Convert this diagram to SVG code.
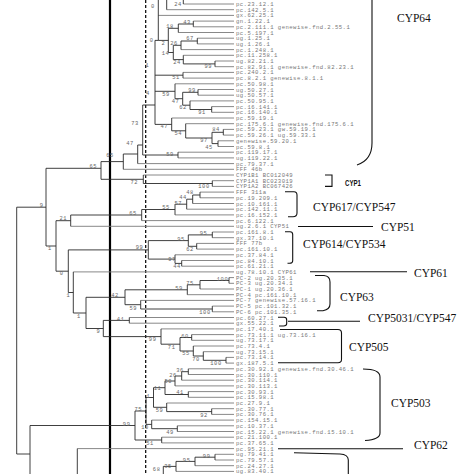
<svg xmlns="http://www.w3.org/2000/svg" width="474" height="474" viewBox="0 0 474 474">
<style>
.lf{fill:none;stroke:#7a7a7a;stroke-width:0.9}
.nd{fill:none;stroke:#2a2a2a;stroke-width:0.9}
.br{fill:none;stroke:#111;stroke-width:1.1}
.lt{font-family:"Liberation Mono",monospace;font-size:5.6px;fill:#777;letter-spacing:0.45px}
.bs{font-family:"Liberation Mono",monospace;font-size:5.4px;fill:#666;text-anchor:middle;letter-spacing:0.6px}
.cl{font-family:"Liberation Serif",serif;font-size:11.5px;fill:#111}
</style>
<rect width="474" height="474" fill="#fff"/>
<line x1="110" y1="0" x2="110" y2="474" stroke="#000" stroke-width="2.2"/>
<line x1="145.7" y1="0" x2="145.7" y2="474" stroke="#000" stroke-width="1.2" stroke-dasharray="3,2"/>
<g id="connectors">
<path class="lf" d="M183.3,4H234M166.7,9.7H234M158.3,15.4H234M193.3,21.1H234M193.3,26.8H234M178.3,32.5H234M197.3,38.2H234M197.3,43.9H234M181,49.6H234M183.3,55.3H234M215,61H234M215,66.7H234M183,72.4H234M183,78.1H234M175,83.8H234M198,89.5H234M198,95.2H234M190,100.9H234M211.7,106.6H234M211.7,112.3H234M171.7,118H234M185.7,123.7H234M223.3,129.4H234M223.3,135.1H234M218,140.8H234M218,146.5H234M178,152.2H234M178,157.9H234M137.7,163.6H234M123.3,169.3H234M143.3,175H234M212.3,180.7H234M212.3,186.4H234M200,192.1H234M200,197.8H234M192.7,203.5H234M186.7,209.2H234M175,214.9H234M141.7,220.6H234M70.7,226.3H234M212.3,232H234M212.3,237.7H234M196.7,243.4H234M196.7,249.1H234M175,254.8H234M181.7,260.5H234M181.7,266.2H234M73.3,271.9H234M229,277.6H234M229,283.3H234M200,289H234M187.3,294.7H234M140.7,300.4H234M212.3,306.1H234M212.3,311.8H234M129.3,317.5H234M129.3,323.2H234M161,328.9H234M191.7,334.6H234M191.7,340.3H234M193.3,346H234M203.3,351.7H234M226,357.4H234M226,363.1H234M188.3,368.8H234M188.3,374.5H234M181.7,380.2H234M175,385.9H234M188.3,391.6H234M188.3,397.3H234M166.7,403H234M211.7,408.7H234M211.7,414.4H234M151.7,420.1H234M177.3,425.8H234M177.3,431.5H234M161.7,437.2H234M161.7,442.9H234M77.3,448.6H234M215,454.3H234M215,460H234M195,465.7H234M176,471.4H234"/>
<path class="nd" d="M183.3,-5V4M166.7,-5V9.7M158.3,-5V40.4
M193.3,21.1V26.8M178.3,24H193.3M178.3,24V32.5M168.3,28.3H178.3
M197.3,38.2V43.9M181,41H197.3M181,41V49.6M173.3,45.3H181
M215,61V66.7M183.3,63.9H215M183.3,55.3V63.9M173.3,59.6H183.3
M173.3,45.3V59.6M168.3,52.5H173.3M168.3,28.3V52.5M158.3,40.4H168.3M155,40.4H158.3
M183,72.4V78.1M155,75.2H183
M198,89.5V95.2M182.7,92.3H198M211.7,106.6V112.3M190,109.5H211.7M190,100.9V109.5M182.7,105.2H190
M182.7,92.3V105.2M175,98.7H182.7M175,83.8V98.7M155,91.3H175
M223.3,129.4V135.1M212,132.3H223.3M218,140.8V146.5M212,143.6H218M212,132.3V143.6M185.7,138H212
M185.7,123.7V138M171.7,130.8H185.7M171.7,118V130.8M155,124.4H171.7
M155,40.4V124.4M142.7,105H155
M178,152.2V157.9M142.7,155H178M142.7,105V155M137.7,145H142.7
M137.7,145V163.6M123.3,154H137.7M123.3,154V169.3M101,161.6H123.3
M212.3,180.7V186.4M143.3,183.5H212.3M143.3,175V183.5M101,179.3H143.3
M101,161.6V179.3M46,168.3H101
M200,192.1V197.8M192.7,195H200M192.7,195V203.5M186.7,199.2H192.7M186.7,199.2V209.2M175,204.2H186.7
M175,204.2V214.9M141.7,209.5H175M141.7,209.5V220.6M70.7,215H141.7M70.7,215V226.3M56,220.7H70.7
M212.3,232V237.7M188.3,234.9H212.3M196.7,243.4V249.1M188.3,246.3H196.7M188.3,234.9V246.3M148.3,240.6H188.3
M181.7,260.5V266.2M175,263.4H181.7M175,254.8V263.4M148.3,259.1H175M148.3,240.6V259.1M68.3,249.9H148.3
M229,277.6V283.3M200,280.5H229M200,280.5V289M187.3,284.8H200M187.3,284.8V294.7M125,289.8H187.3
M212.3,306.1V311.8M140.7,309H212.3M140.7,300.4V309M125,304.7H140.7M125,289.8V304.7M86,297.3H125
M129.3,317.5V323.2M103.3,320.4H129.3
M226,357.4V363.1M203.3,360.3H226M203.3,351.7V360.3M193.3,356H203.3M193.3,346V356M180,351H193.3
M191.7,334.6V340.3M180,337.5H191.7M180,337.5V351M161,344.2H180M161,328.9V344.2M103.3,336.6H161
M103.3,320.4V336.6M86,328.5H103.3M86,297.3V328.5M73.3,313H86M73.3,271.9V313M68.3,292.5H73.3
M68.3,249.9V292.5M56,271.2H68.3M56,220.7V271.2M46,246H56M46,168.3V246M16.7,207.2H46
M16.7,207.2V454M16.7,454H30
M188.3,368.8V374.5M181.7,371.7H188.3M181.7,371.7V380.2M175,376H181.7M175,376V385.9M165,381H175
M188.3,391.6V397.3M165,394.5H188.3M165,381V394.5M153.5,387.7H165
M211.7,408.7V414.4M166.7,411.6H211.7M166.7,403V411.6M153.5,407.3H166.7M153.5,387.7V407.3M146,397.5H153.5
M177.3,425.8V431.5M151.7,428.7H177.3M151.7,420.1V428.7M146,424.4H151.7M146,397.5V424.4M135,411H146
M161.7,437.2V442.9M135,440H161.7M135,411V440M30,425.5H135M30,425.5V480
M77.3,448.6V480
M215,454.3V460M195,457.2H215M195,457.2V465.7M176,461.4H195M176,461.4V471.4M163.3,466.4H176M163.3,466.4V480"/>
<path class="br" d="M372,-5V143Q372,160 357,165"/>
<path class="br" d="M325,175H332V186.4H325"/>
<path class="br" d="M285,191.7H294Q297,191.7 297,195V213Q297,216.7 293,216.7H288"/>
<path class="br" d="M298,226.5H373"/>
<path class="br" d="M285,231.7H290Q292.7,231.7 292.7,234.5V260.5Q292.7,263.3 289.5,263.3H287.5"/>
<path class="br" d="M310,271.8H407"/>
<path class="br" d="M315,275.5H324Q330,276 330,282V304Q330,309.5 323,310.7H317"/>
<path class="br" d="M278,317.3H284Q286.7,317.3 286.7,320V323.5Q286.7,326 283.5,326H279M288,321.2H360"/>
<path class="br" d="M280,329.5H338Q341.5,329.5 341.5,333V359.5Q341.5,362.7 338,362.7H278"/>
<path class="br" d="M363,369Q380,369 380,377V433Q380,439.5 365,440.5"/>
<path class="br" d="M278,448.8H403"/>
<path class="br" d="M294,452.7L340,454Q348.3,454.5 348.3,460V480"/>
</g>
<g id="bootstrap">
<text class="bs" x="178" y="6">24</text>
<text class="bs" x="153" y="8">0</text>
<text class="bs" x="187" y="23.5">43</text>
<text class="bs" x="170" y="27.5">18</text>
<text class="bs" x="190" y="40">67</text>
<text class="bs" x="151.7" y="42">0</text>
<text class="bs" x="163.3" y="44.7">2</text>
<text class="bs" x="174" y="45">26</text>
<text class="bs" x="165.5" y="55.3">14</text>
<text class="bs" x="177" y="63.5">24</text>
<text class="bs" x="147.5" y="67">1</text>
<text class="bs" x="208.3" y="68">99</text>
<text class="bs" x="176" y="79">51</text>
<text class="bs" x="192" y="92">99</text>
<text class="bs" x="148" y="94.7">4</text>
<text class="bs" x="166" y="96">59</text>
<text class="bs" x="175.5" y="102.7">47</text>
<text class="bs" x="183" y="109">62</text>
<text class="bs" x="202" y="113.7">91</text>
<text class="bs" x="135" y="124.7">73</text>
<text class="bs" x="164.3" y="128">47</text>
<text class="bs" x="216" y="131.3">84</text>
<text class="bs" x="178.3" y="135.3">54</text>
<text class="bs" x="204" y="141.8">97</text>
<text class="bs" x="130" y="144.7">47</text>
<text class="bs" x="209" y="148.5">45</text>
<text class="bs" x="110" y="156.5">65</text>
<text class="bs" x="170" y="156">59</text>
<text class="bs" x="93.3" y="168">65</text>
<text class="bs" x="134.3" y="183.7">72</text>
<text class="bs" x="204" y="188">100</text>
<text class="bs" x="190" y="193.8">48</text>
<text class="bs" x="183" y="199.2">44</text>
<text class="bs" x="178.3" y="205">57</text>
<text class="bs" x="41.7" y="207">9</text>
<text class="bs" x="166" y="209.3">55</text>
<text class="bs" x="133" y="215.3">65</text>
<text class="bs" x="63.3" y="220.3">21</text>
<text class="bs" x="203.5" y="234.7">95</text>
<text class="bs" x="181" y="241.3">95</text>
<text class="bs" x="139.5" y="249.3">99</text>
<text class="bs" x="50" y="250.3">1</text>
<text class="bs" x="190" y="250.7">62</text>
<text class="bs" x="172" y="260.5">97</text>
<text class="bs" x="177" y="267.5">44</text>
<text class="bs" x="61.7" y="275.3">0</text>
<text class="bs" x="222.5" y="280.5">100</text>
<text class="bs" x="190" y="284.5">75</text>
<text class="bs" x="179" y="290">59</text>
<text class="bs" x="68.3" y="297">1</text>
<text class="bs" x="115" y="297">42</text>
<text class="bs" x="133.3" y="309.5">59</text>
<text class="bs" x="205" y="314">100</text>
<text class="bs" x="79" y="318">1</text>
<text class="bs" x="120.7" y="321">41</text>
<text class="bs" x="98.3" y="332.7">9</text>
<text class="bs" x="185" y="338">60</text>
<text class="bs" x="152.7" y="341.3">99</text>
<text class="bs" x="171.7" y="349.3">71</text>
<text class="bs" x="186" y="355.3">55</text>
<text class="bs" x="196" y="361.3">70</text>
<text class="bs" x="216" y="364.7">100</text>
<text class="bs" x="180" y="371.5">36</text>
<text class="bs" x="173" y="376.5">26</text>
<text class="bs" x="168.3" y="382.7">50</text>
<text class="bs" x="157.5" y="389.5">11</text>
<text class="bs" x="180" y="393.7">41</text>
<text class="bs" x="148.3" y="398">1</text>
<text class="bs" x="138.3" y="411.3">75</text>
<text class="bs" x="159.5" y="412">59</text>
<text class="bs" x="204" y="416.7">92</text>
<text class="bs" x="126.7" y="426">99</text>
<text class="bs" x="145" y="429.3">10</text>
<text class="bs" x="170" y="433.7">49</text>
<text class="bs" x="150" y="445">51</text>
<text class="bs" x="206.7" y="458">99</text>
<text class="bs" x="186.7" y="462">95</text>
<text class="bs" x="168" y="467.5">35</text>
<text class="bs" x="156.7" y="471.3">68</text>
</g>
<g id="leaves">
<text class="lt" x="236" y="6">pc.23.12.1</text>
<text class="lt" x="236" y="11.7">pc.142.5.1</text>
<text class="lt" x="236" y="17.4">gx.62.25.1</text>
<text class="lt" x="236" y="23.1">gn.1.22.1</text>
<text class="lt" x="236" y="28.8">pc.2.111.1 genewise.fnd.2.55.1</text>
<text class="lt" x="236" y="34.5">pc.5.197.1</text>
<text class="lt" x="236" y="40.2">ug.1.25.1</text>
<text class="lt" x="236" y="45.9">ug.1.26.1</text>
<text class="lt" x="236" y="51.6">pc.1.248.1</text>
<text class="lt" x="236" y="57.3">pc.11.258.1</text>
<text class="lt" x="236" y="63">ug.82.21.1</text>
<text class="lt" x="236" y="68.7">pc.82.91.1 genewise.fnd.82.23.1</text>
<text class="lt" x="236" y="74.4">pc.240.2.1</text>
<text class="lt" x="236" y="80.1">pc.8.2.1 genewise.8.1.1</text>
<text class="lt" x="236" y="85.8">pc.50.98.1</text>
<text class="lt" x="236" y="91.5">ug.50.27.1</text>
<text class="lt" x="236" y="97.2">ug.50.57.1</text>
<text class="lt" x="236" y="102.9">pc.50.95.1</text>
<text class="lt" x="236" y="108.6">pc.16.141.1</text>
<text class="lt" x="236" y="114.3">pc.16.140.1</text>
<text class="lt" x="236" y="120">pc.59.19.1</text>
<text class="lt" x="236" y="125.7">pc.175.6.1 genewise.fnd.175.6.1</text>
<text class="lt" x="236" y="131.4">pc.59.23.1 gw.59.19.1</text>
<text class="lt" x="236" y="137.1">pc.59.26.1 ug.59.33.1</text>
<text class="lt" x="236" y="142.8">genewise.59.20.1</text>
<text class="lt" x="236" y="148.5">pc.59.8.1</text>
<text class="lt" x="236" y="154.2">pc.119.17.1</text>
<text class="lt" x="236" y="159.9">ug.119.22.1</text>
<text class="lt" x="236" y="165.6">pc.79.37.1</text>
<text class="lt" x="236" y="171.3">FFF 46b</text>
<text class="lt" x="236" y="177">CYP1B1 BC012049</text>
<text class="lt" x="236" y="182.7">CYP1A1 BC023019</text>
<text class="lt" x="236" y="188.4">CYP1A2 BC067426</text>
<text class="lt" x="236" y="194.1">FFF 311a</text>
<text class="lt" x="236" y="199.8">pc.19.209.1</text>
<text class="lt" x="236" y="205.5">pc.10.161.1</text>
<text class="lt" x="236" y="211.2">pc.142.11.1</text>
<text class="lt" x="236" y="216.9">pc.16.152.1</text>
<text class="lt" x="236" y="222.6">pc.6.122.1</text>
<text class="lt" x="236" y="228.3">ug.2.6.1 CYP51</text>
<text class="lt" x="236" y="234">pc.161.8.1</text>
<text class="lt" x="236" y="239.7">gx.37.10.1</text>
<text class="lt" x="236" y="245.4">FFF 77b</text>
<text class="lt" x="236" y="251.1">pc.161.10.1</text>
<text class="lt" x="236" y="256.8">pc.37.84.1</text>
<text class="lt" x="236" y="262.5">pc.84.10.1</text>
<text class="lt" x="236" y="268.2">pc.61.21.1</text>
<text class="lt" x="236" y="273.9">ug.78.10.1 CYP61</text>
<text class="lt" x="236" y="279.6">PC-2 ug.20.35.1</text>
<text class="lt" x="236" y="285.3">PC-3 ug.20.34.1</text>
<text class="lt" x="236" y="291">PC-1 ug.20.36.1</text>
<text class="lt" x="236" y="296.7">PC-4 pc.161.10.1</text>
<text class="lt" x="236" y="302.4">PC-7 genewise.57.16.1</text>
<text class="lt" x="236" y="308.1">PC-5 pc.101.32.1</text>
<text class="lt" x="236" y="313.8">PC-6 pc.101.35.1</text>
<text class="lt" x="236" y="319.5">pc.60.27.1</text>
<text class="lt" x="236" y="325.2">gx.55.22.1</text>
<text class="lt" x="236" y="330.9">pc.17.40.1</text>
<text class="lt" x="236" y="336.6">pc.73.11.1 ug.73.16.1</text>
<text class="lt" x="236" y="342.3">ug.73.17.1</text>
<text class="lt" x="236" y="348">pc.73.4.1</text>
<text class="lt" x="236" y="353.7">ug.73.15.1</text>
<text class="lt" x="236" y="359.4">pc.73.14.1</text>
<text class="lt" x="236" y="365.1">gx.187.5.1</text>
<text class="lt" x="236" y="370.8">pc.30.92.1 genewise.fnd.30.46.1</text>
<text class="lt" x="236" y="376.5">pc.30.110.1</text>
<text class="lt" x="236" y="382.2">pc.30.114.1</text>
<text class="lt" x="236" y="387.9">pc.30.113.1</text>
<text class="lt" x="236" y="393.6">pc.30.93.1</text>
<text class="lt" x="236" y="399.3">pc.15.98.1</text>
<text class="lt" x="236" y="405">pc.27.9.1</text>
<text class="lt" x="236" y="410.7">pc.30.77.1</text>
<text class="lt" x="236" y="416.4">pc.30.76.1</text>
<text class="lt" x="236" y="422.1">pc.154.15.1</text>
<text class="lt" x="236" y="427.8">pc.10.37.1</text>
<text class="lt" x="236" y="433.5">pc.15.22.1 genewise.fnd.15.10.1</text>
<text class="lt" x="236" y="439.2">pc.21.100.1</text>
<text class="lt" x="236" y="444.9">pc.37.65.1</text>
<text class="lt" x="236" y="450.6">pc.95.21.1</text>
<text class="lt" x="236" y="456.3">ug.79.41.1</text>
<text class="lt" x="236" y="462">pc.79.57.1</text>
<text class="lt" x="236" y="467.7">pc.24.27.1</text>
<text class="lt" x="236" y="473.4">ug.83.40.1</text>
</g>
<g id="clade-CYP64"><text class="cl" x="397" y="22">CYP64</text></g>
<g id="clade-CYP1"><text x="345" y="186" font-family="Liberation Sans,sans-serif" font-weight="bold" font-size="9" textLength="16" lengthAdjust="spacingAndGlyphs" fill="#111">CYP1</text></g>
<g id="clade-CYP617"><text class="cl" x="313" y="211">CYP617/CYP547</text></g>
<g id="clade-CYP51"><text class="cl" x="381" y="231">CYP51</text></g>
<g id="clade-CYP614"><text class="cl" x="303" y="247.5">CYP614/CYP534</text></g>
<g id="clade-CYP61"><text class="cl" x="414" y="277">CYP61</text></g>
<g id="clade-CYP63"><text class="cl" x="340" y="301">CYP63</text></g>
<g id="clade-CYP5031"><text class="cl" x="368" y="321.5">CYP5031/CYP547</text></g>
<g id="clade-CYP505"><text class="cl" x="349" y="351">CYP505</text></g>
<g id="clade-CYP503"><text class="cl" x="391" y="407">CYP503</text></g>
<g id="clade-CYP62"><text class="cl" x="414" y="448.5">CYP62</text></g>
</svg>
